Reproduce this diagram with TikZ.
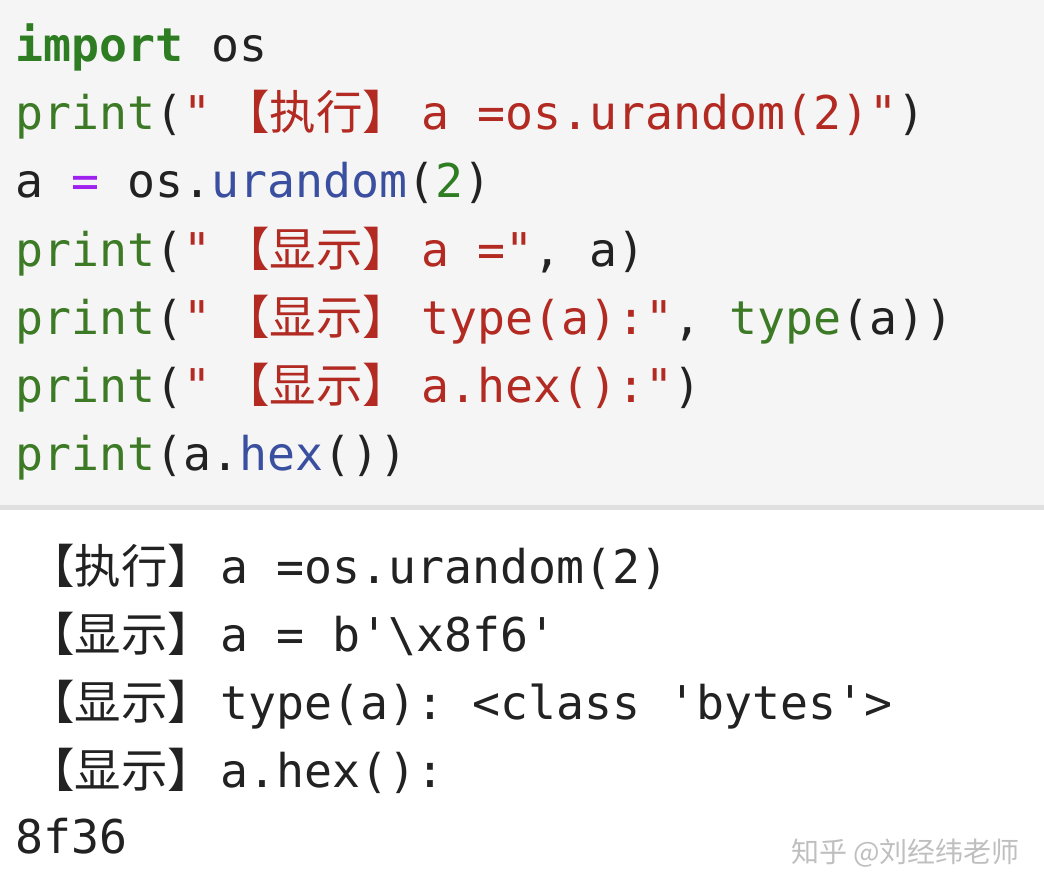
\documentclass[tikz,border=0pt]{standalone}
\usepackage{fontspec}
\setmonofont{DejaVu Sans Mono}
\newfontfamily\cjk{Noto Sans CJK SC}
\definecolor{kw}{HTML}{2E7D22}
\definecolor{fn}{HTML}{3C7A25}
\definecolor{st}{HTML}{B22A22}
\definecolor{at}{HTML}{3A4FA0}
\definecolor{op}{HTML}{A020F0}
\definecolor{tx}{HTML}{222222}
\definecolor{bg}{HTML}{F5F5F5}
\newcommand{\C}[1]{\hspace{12pt}{\cjk #1}\hspace{12pt}}
\newcommand{\D}[1]{{\cjk #1}\hspace{6pt}}
\tikzset{code/.style={anchor=base west,inner sep=0pt,text=tx,font=\ttfamily\fontsize{46.5}{50}\selectfont}}
\begin{document}
\begin{tikzpicture}[x=1pt,y=-1pt]
\useasboundingbox (0,0) rectangle (1044,896);
\fill[bg] (0,0) rectangle (1044,507);
\fill[black!12] (0,505) rectangle (1044,510);
\node[code] (l1) at (15,62) {\textcolor{kw}{\bfseries import} os};
\node[code] (l2) at (15,130) {\textcolor{fn}{print}(\textcolor{st}{"\C{【执行】}a =os.urandom(2)"})};
\node[code] (l3) at (15,198) {a \textcolor{op}{=} os.\textcolor{at}{urandom}(\textcolor{kw}{2})};
\node[code] (l4) at (15,266) {\textcolor{fn}{print}(\textcolor{st}{"\C{【显示】}a ="}, a)};
\node[code] (l5) at (15,334) {\textcolor{fn}{print}(\textcolor{st}{"\C{【显示】}type(a):"}, \textcolor{fn}{type}(a))};
\node[code] (l6) at (15,402) {\textcolor{fn}{print}(\textcolor{st}{"\C{【显示】}a.hex():"})};
\node[code] (l7) at (15,470) {\textcolor{fn}{print}(a.\textcolor{at}{hex}())};
\node[code] (o1) at (28,583) {\D{【执行】}a =os.urandom(2)};
\node[code] (o2) at (28,651) {\D{【显示】}a = b'\textbackslash x8f6'};
\node[code] (o3) at (28,719) {\D{【显示】}type(a): <class 'bytes'>};
\node[code] (o4) at (28,787) {\D{【显示】}a.hex():};
\node[code] (o5) at (15,853) {8f36};
\node[anchor=base east,inner sep=0pt,text=black!25,font=\cjk\fontsize{28}{32}\selectfont] (wm) at (1020,862) {知乎 @刘经纬老师};
\end{tikzpicture}
\end{document}
